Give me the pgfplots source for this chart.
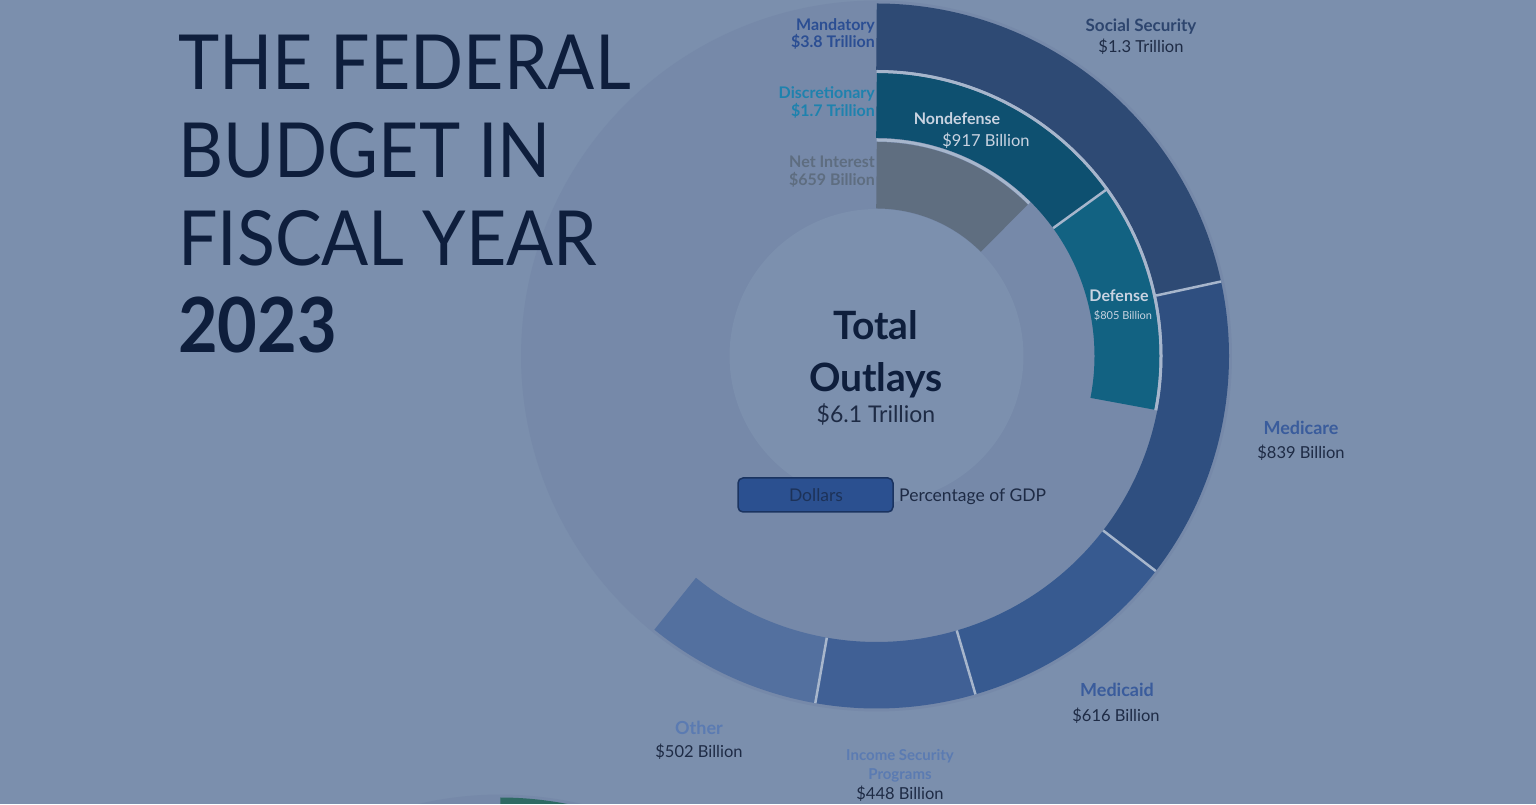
\documentclass[border=0pt]{standalone}
\usepackage{pgfplots}
\pgfplotsset{compat=1.18}
\usepackage{fontspec}
\setmainfont{Lato}
\definecolor{bg}{HTML}{7B8FAD}
\definecolor{bigc}{HTML}{7689A9}
\definecolor{innc}{HTML}{7C90AE}
\definecolor{cSS}{HTML}{2E4A74}
\definecolor{cMedicare}{HTML}{2F4F80}
\definecolor{cMedicaid}{HTML}{375A90}
\definecolor{cIncome}{HTML}{406095}
\definecolor{cOther}{HTML}{53709F}
\definecolor{cNondef}{HTML}{0E5070}
\definecolor{cDef}{HTML}{126282}
\definecolor{cNet}{HTML}{5F6E80}
\definecolor{sep}{HTML}{A7B6CC}
\definecolor{cGreen}{HTML}{2E6A64}
\definecolor{tTitle}{HTML}{0E1E3C}
\definecolor{tDark}{HTML}{1E2B45}
\definecolor{tMand}{HTML}{2B4E93}
\definecolor{tDisc}{HTML}{1E82AE}
\definecolor{tNet}{HTML}{5E6D80}
\definecolor{tSS}{HTML}{2D456E}
\definecolor{tMed}{HTML}{3A5C9C}
\definecolor{tOth}{HTML}{5B7BB2}
\definecolor{tLight}{HTML}{C9D3E1}
\definecolor{btnFill}{HTML}{2B5090}
\definecolor{btnLine}{HTML}{1A3360}
\definecolor{btnText}{HTML}{1D3258}
\newcommand\F[1]{\fontsize{#1}{#1}\selectfont}
\begin{document}
\begin{tikzpicture}
\begin{axis}[x=1pt,y=1pt,xmin=0,xmax=1536,ymin=0,ymax=804,hide axis,clip=true,
  ring/.style={no marks,line cap=butt,samples=120,variable=\t}]
\fill[bg] (rel axis cs:0,0) rectangle (rel axis cs:1,1);
% pale background circles
\addplot[fill=bigc,draw=none,no marks,domain=0:360,samples=240,variable=\t] ({876.5+355.5*sin(\t)},{448+355.5*cos(\t)}) -- cycle;
\addplot[fill=innc,draw=none,no marks,domain=0:360,samples=200,variable=\t] ({876.5+147*sin(\t)},{448+147*cos(\t)}) -- cycle;
% partial chart at bottom
\addplot[fill=bigc,draw=none,no marks,domain=0:360,samples=240,variable=\t] ({500+355.5*sin(\t)},{-346+355.5*cos(\t)}) -- cycle;
\addplot[ring,draw=cGreen,line width=66.5pt,domain=0:40] ({500+319.25*sin(\t)},{-346+319.25*cos(\t)});
% Mandatory ring (angles in degrees clockwise from 12 o'clock)
\addplot[ring,draw=cSS,line width=66.5pt,domain=0:77.8] ({876.5+319.25*sin(\t)},{448+319.25*cos(\t)});
\addplot[ring,draw=cMedicare,line width=66.5pt,domain=77.8:127.6] ({876.5+319.25*sin(\t)},{448+319.25*cos(\t)});
\addplot[ring,draw=cMedicaid,line width=66.5pt,domain=127.6:163.7] ({876.5+319.25*sin(\t)},{448+319.25*cos(\t)});
\addplot[ring,draw=cIncome,line width=66.5pt,domain=163.7:190.0] ({876.5+319.25*sin(\t)},{448+319.25*cos(\t)});
\addplot[ring,draw=cOther,line width=66.5pt,domain=190.0:219.1] ({876.5+319.25*sin(\t)},{448+319.25*cos(\t)});
% Discretionary ring
\addplot[ring,draw=cNondef,line width=65pt,domain=0:54.1] ({876.5+250.5*sin(\t)},{448+250.5*cos(\t)});
\addplot[ring,draw=cDef,line width=65pt,domain=54.1:101.0] ({876.5+250.5*sin(\t)},{448+250.5*cos(\t)});
% Net interest ring
\addplot[ring,draw=cNet,line width=66.5pt,domain=0:45.0] ({876.5+180.75*sin(\t)},{448+180.75*cos(\t)});
% separators
\addplot[ring,draw=sep,line width=3pt,domain=0:101.0] ({876.5+284.5*sin(\t)},{448+284.5*cos(\t)});
\addplot[ring,draw=sep,line width=3pt,domain=0:45.0] ({876.5+216*sin(\t)},{448+216*cos(\t)});
\addplot[draw=sep,line width=2.5pt,no marks,samples=2,domain=286:352.5,variable=\t] ({876.5+\t*sin(77.8)},{448+\t*cos(77.8)});
\addplot[draw=sep,line width=2.5pt,no marks,samples=2,domain=286:352.5,variable=\t] ({876.5+\t*sin(127.6)},{448+\t*cos(127.6)});
\addplot[draw=sep,line width=2.5pt,no marks,samples=2,domain=286:352.5,variable=\t] ({876.5+\t*sin(163.7)},{448+\t*cos(163.7)});
\addplot[draw=sep,line width=2.5pt,no marks,samples=2,domain=286:352.5,variable=\t] ({876.5+\t*sin(190.0)},{448+\t*cos(190.0)});
\addplot[draw=sep,line width=2.5pt,no marks,samples=2,domain=218:283,variable=\t] ({876.5+\t*sin(54.1)},{448+\t*cos(54.1)});
% Title
\node[anchor=base west,inner sep=0,text=tTitle,font=\F{76}] at (axis cs:178,714) {\scalebox{0.918}[1]{THE FEDERAL}};
\node[anchor=base west,inner sep=0,text=tTitle,font=\F{76}] at (axis cs:178,626) {\scalebox{0.918}[1]{BUDGET IN}};
\node[anchor=base west,inner sep=0,text=tTitle,font=\F{76}] at (axis cs:178,538) {\scalebox{0.918}[1]{FISCAL YEAR}};
\node[anchor=base west,inner sep=0,text=tTitle,font=\F{76}\bfseries] at (axis cs:178,451) {\scalebox{0.9}[1]{2023}};
% left labels
\node[anchor=base east,inner sep=0,text=tMand,font=\F{16}\bfseries] at (axis cs:875,773) {Mandatory};
\node[anchor=base east,inner sep=0,text=tMand,font=\F{16}\bfseries] at (axis cs:875,756) {\$3.8 Trillion};
\node[anchor=base east,inner sep=0,text=tDisc,font=\F{16}\bfseries] at (axis cs:875,705) {Discretionary};
\node[anchor=base east,inner sep=0,text=tDisc,font=\F{16}\bfseries] at (axis cs:875,687) {\$1.7 Trillion};
\node[anchor=base east,inner sep=0,text=tNet,font=\F{16}\bfseries] at (axis cs:875,636) {Net Interest};
\node[anchor=base east,inner sep=0,text=tNet,font=\F{16}\bfseries] at (axis cs:875,618) {\$659 Billion};
% ring labels
\node[anchor=base,inner sep=0,text=tSS,font=\F{17}\bfseries] at (axis cs:1141,772) {Social Security};
\node[anchor=base,inner sep=0,text=tDark,font=\F{16.5}] at (axis cs:1141,751) {\$1.3 Trillion};
\node[anchor=base,inner sep=0,text=tLight,font=\F{16}\bfseries] at (axis cs:957,679) {Nondefense};
\node[anchor=base,inner sep=0,text=tLight,font=\F{16.5}] at (axis cs:986,657) {\$917 Billion};
\node[anchor=base,inner sep=0,text=tLight,font=\F{16}\bfseries] at (axis cs:1119,502) {Defense};
\node[anchor=base,inner sep=0,text=tLight,font=\F{11}] at (axis cs:1123,484) {\$805 Billion};
\node[anchor=base,inner sep=0,text=tMed,font=\F{18}\bfseries] at (axis cs:1301,369) {Medicare};
\node[anchor=base,inner sep=0,text=tDark,font=\F{16.5}] at (axis cs:1301,345) {\$839 Billion};
\node[anchor=base,inner sep=0,text=tMed,font=\F{18}\bfseries] at (axis cs:1117,107) {Medicaid};
\node[anchor=base,inner sep=0,text=tDark,font=\F{16.5}] at (axis cs:1116,82) {\$616 Billion};
\node[anchor=base,inner sep=0,text=tOth,font=\F{18}\bfseries] at (axis cs:699,69) {Other};
\node[anchor=base,inner sep=0,text=tDark,font=\F{16.5}] at (axis cs:699,46) {\$502 Billion};
\node[anchor=base,inner sep=0,text=tOth,font=\F{15}\bfseries] at (axis cs:900,43) {Income Security};
\node[anchor=base,inner sep=0,text=tOth,font=\F{15}\bfseries] at (axis cs:900,24) {Programs};
\node[anchor=base,inner sep=0,text=tDark,font=\F{16.5}] at (axis cs:900,4) {\$448 Billion};
% center
\node[anchor=base,inner sep=0,text=tTitle,font=\F{39}\bfseries] at (axis cs:876,464) {Total};
\node[anchor=base,inner sep=0,text=tTitle,font=\F{39}\bfseries] at (axis cs:876,412) {Outlays};
\node[anchor=base,inner sep=0,text=tDark,font=\F{23}] at (axis cs:876,381) {\$6.1 Trillion};
\draw[fill=btnFill,draw=btnLine,line width=1.5pt,rounded corners=5pt] (axis cs:738,292) rectangle (axis cs:893,326);
\node[anchor=base,inner sep=0,text=btnText,font=\F{17.5}] at (axis cs:816,302) {Dollars};
\node[anchor=base west,inner sep=0,text=tDark,font=\F{17.5}] at (axis cs:899,302) {Percentage of GDP};
\end{axis}
\end{tikzpicture}
\end{document}
